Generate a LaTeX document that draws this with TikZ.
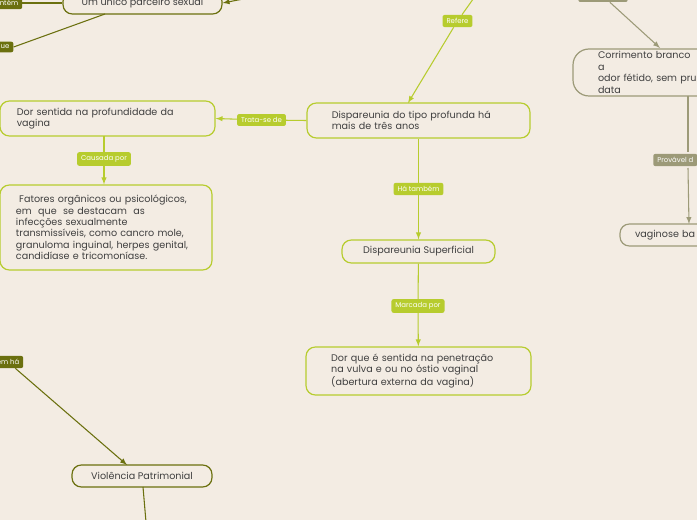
\documentclass[tikz,border=0pt]{standalone}
\usepackage{fontspec}
\setmainfont{Poppins}
\begin{document}
\begin{tikzpicture}[x=0.75pt,y=-0.75pt,
  every node/.style={font=\fontsize{7.2}{8.6}\selectfont,text=black!75},
  tnode/.style={draw=#1,line width=0.9pt,rounded corners=7pt,fill=bg,align=left,inner sep=0pt},
  lab/.style={fill=#1,rounded corners=1.5pt,font=\fontsize{5.2}{6}\selectfont,text=white,inner xsep=3pt,inner ysep=2.5pt},
  con/.style={draw=#1,line width=0.8pt},
  arr/.style={con=#1,-latex}]
\definecolor{bg}{HTML}{F3ECE3}
\definecolor{dk}{HTML}{6B700F}
\definecolor{lg}{HTML}{B7CC2E}
\definecolor{gy}{HTML}{9C9A78}
\useasboundingbox (0,0) rectangle (697,520);
\clip (0,0) rectangle (697,520);
\fill[bg] (0,0) rectangle (697,520);
% top-left
\node[tnode=dk,minimum width=119.25pt,minimum height=16.5pt,align=center] (up) at (142.5,3) {Um único parceiro sexual};
\node[lab=dk] (l1) at (9,3) {ntém};
\node[lab=dk] (l2) at (5,47) {ue};
\coordinate (tr) at (300,-12);
\draw[con=dk] (l1) -- (up);
\draw[arr=dk] (tr) -- (up.east);
\draw[con=dk] (l2.east) -- (105,14);
% center
\node[tnode=lg,minimum width=167.25pt,minimum height=26.25pt,text width=130pt] (dp) at (418.5,120.5) {Dispareunia do tipo profunda há\\mais de três anos};
\node[lab=lg] (refere) at (457.5,21) {Refere};
\coordinate (tc) at (476,-5);
\draw[con=lg] (tc) -- (refere);
\draw[arr=lg] (refere) -- (408,103);
\node[tnode=lg,minimum width=161.25pt,minimum height=26.25pt,text width=136pt] (dor) at (107.5,118.5) {Dor sentida na profundidade da\\vagina};
\node[lab=lg] (trata) at (261.5,120) {Trata-se de};
\draw[con=lg] (dp.west) -- (trata);
\draw[arr=lg] (trata) -- (dor.east);
\node[tnode=lg,minimum width=159pt,minimum height=63.75pt,text width=135pt] (fat) at (106,227.5) {\ Fatores orgânicos ou psicológicos,\\em\ \ que\ \ se destacam\ \ as\\infecções sexualmente\\transmissíveis, como cancro mole,\\granuloma inguinal, herpes genital,\\candidíase e tricomoníase.};
\node[lab=lg] (causa) at (104,159) {Causada por};
\draw[con=lg] (104,136) -- (causa);
\draw[arr=lg] (causa) -- (fat.north -| causa);
\node[tnode=lg,minimum width=114.75pt,minimum height=17.25pt,align=center] (sup) at (418.5,251.5) {Dispareunia Superficial};
\node[lab=lg] (ha) at (418.5,189) {Há também};
\draw[con=lg] (dp.south) -- (ha);
\draw[arr=lg] (ha) -- (sup);
\node[tnode=lg,minimum width=168.75pt,minimum height=36pt,text width=131pt] (dq) at (418.5,371) {Dor que é sentida na penetração\\na vulva e ou no óstio vaginal\\(abertura externa da vagina)};
\node[lab=lg] (marc) at (418,306) {Marcada por};
\draw[con=lg] (sup) -- (marc);
\draw[arr=lg] (marc) -- (dq);
% bottom-left
\node[tnode=dk,minimum width=105pt,minimum height=16.5pt,align=center] (vp) at (142,476) {Violência Patrimonial};
\node[lab=dk] (emha) at (8,362) {em há};
\draw[arr=dk] (emha) -- (127,465);
\coordinate (bl) at (146,522);
\draw[con=dk] (143,487) -- (bl);
% right
\node[tnode=gy,minimum width=112.5pt,minimum height=35.25pt,text width=75pt,rounded corners=12pt] (cor) at (648,72.5) {Corrimento branco a\\odor fétido, sem pru\\data};
\node[lab=gy,minimum width=37pt,minimum height=9pt] (g1) at (603,-4) {};
\draw[arr=gy] (g1) -- (660,48);
\node[tnode=gy,minimum width=112.5pt,minimum height=16.5pt,text width=90pt] (vag) at (695,235) {vaginose ba};
\node[lab=gy,anchor=west] (prov) at (653,160) {Provável d};
\draw[con=gy] (688,96) -- (688,152);
\draw[arr=gy] (688,168) -- (689,224);
\end{tikzpicture}
\end{document}
